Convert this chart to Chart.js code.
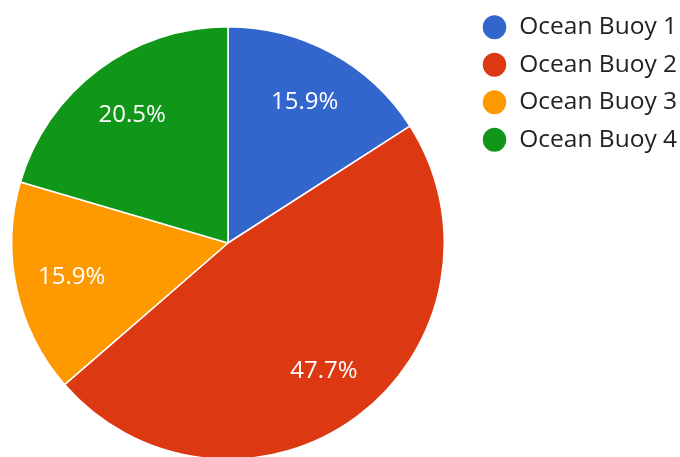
<!DOCTYPE html>
<html lang="en">
<head>
    <meta charset="UTF-8">
    <title>Ocean Buoys</title>
    <style>
        body {
            margin: 0;
            padding: 0;
            background: #fff;
        }
        #wrap {
            position: relative;
            width: 680px;
            height: 457px;
        }
    </style>
</head>
<body>
    <div id="wrap"><canvas id="pie-chart"></canvas></div>

    <script src="https://cdn.jsdelivr.net/npm/chart.js"></script>
    <script>
        const buoyLabels = ['Ocean Buoy 1', 'Ocean Buoy 2', 'Ocean Buoy 3', 'Ocean Buoy 4'];
        const buoyValues = [7, 21, 7, 9];
        const buoyColors = ['#3366cc', '#dc3912', '#ff9900', '#109618'];

        const FONT = '"Open Sans", "Noto Sans", Arial, sans-serif';

        // pie sits at a fixed box, legend top right like the original
        const placeLayout = {
            id: 'placeLayout',
            afterLayout(chart) {
                const a = chart.chartArea;
                a.left = 11; a.top = 26; a.right = 445; a.bottom = 460;
                a.width = a.right - a.left;
                a.height = a.bottom - a.top;
                const lg = chart.legend;
                const w = lg.width, h = lg.height;
                lg.left = 469; lg.right = 469 + w;
                lg.top = 2; lg.bottom = 2 + h;
            }
        };

        // percent labels inside slices
        const percentLabels = {
            id: 'percentLabels',
            afterDatasetsDraw(chart) {
                const ctx = chart.ctx;
                const meta = chart.getDatasetMeta(0);
                const total = buoyValues.reduce((s, v) => s + v, 0);
                ctx.save();
                ctx.font = '24px ' + FONT;
                ctx.fillStyle = '#fff';
                ctx.textAlign = 'center';
                ctx.textBaseline = 'middle';
                meta.data.forEach((arc, i) => {
                    const p = arc.getProps(['x', 'y', 'startAngle', 'endAngle', 'outerRadius']);
                    const mid = (p.startAngle + p.endAngle) / 2;
                    const r = p.outerRadius * 0.74;
                    const pct = (buoyValues[i] / total * 100).toFixed(1) + '%';
                    ctx.fillText(pct, p.x + Math.cos(mid) * r, p.y + Math.sin(mid) * r);
                });
                ctx.restore();
            }
        };

        window.onload = () => {
            const ctx = document.getElementById('pie-chart').getContext('2d');
            new Chart(ctx, {
                type: 'pie',
                data: {
                    labels: buoyLabels,
                    datasets: [{
                        data: buoyValues,
                        backgroundColor: buoyColors,
                        borderColor: '#fff',
                        borderWidth: 1.5
                    }]
                },
                options: {
                    responsive: true,
                    maintainAspectRatio: false,
                    animation: false,
                    events: [],
                    plugins: {
                        legend: {
                            position: 'right',
                            align: 'start',
                            labels: {
                                usePointStyle: true,
                                pointStyle: 'circle',
                                pointStyleWidth: 25,
                                boxHeight: 18,
                                padding: 13,
                                color: '#222',
                                font: { family: FONT, size: 24.5 }
                            }
                        },
                        tooltip: { enabled: false }
                    }
                },
                plugins: [placeLayout, percentLabels]
            });
        };
    </script>
</body>
</html>
